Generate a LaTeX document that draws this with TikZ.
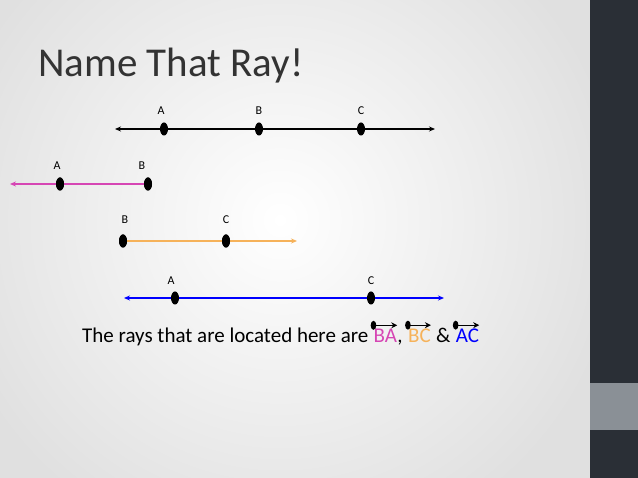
\documentclass[tikz,border=0pt]{standalone}
\usepackage{fontspec}
\setmainfont{Carlito}
\usetikzlibrary{shapes.geometric,arrows.meta}
\begin{document}
\begin{tikzpicture}[x=1pt,y=-1pt,
  dot/.style={ellipse,fill=black,minimum width=8pt,minimum height=13pt,inner sep=0pt},
  lbl/.style={font=\fontsize{12}{14}\selectfont,inner sep=0pt},
  txt/.style={font=\fontsize{21}{24}\selectfont,inner sep=0pt,anchor=base west},
  ln/.style={line width=1.2pt,>={Stealth[length=6pt,width=5pt]}}]
\useasboundingbox (0,0) rectangle (638,478);
\fill[black!12] (0,0) rectangle (590,478);
\shade[inner color=white,outer color=black!12,shading=radial] (280,220) circle (340pt);
\fill[color={rgb,255:red,42;green,47;blue,54}] (590,0) rectangle (638,478);
\fill[color={rgb,255:red,138;green,144;blue,150}] (590,383) rectangle (638,430);
\node[font=\fontsize{41}{48}\selectfont,anchor=base west,inner sep=0pt,text=black!80] (title) at (38,77) {Name That Ray!};
% line 1
\coordinate (l1a) at (115,129); \coordinate (l1b) at (435,129);
\draw[ln,<->] (l1a) -- (l1b);
\node[dot] (a1) at (164,129) {}; \node[dot] (b1) at (259,129) {}; \node[dot] (c1) at (361,129) {};
\node[lbl] at (161,111) {A}; \node[lbl] at (259,111) {B}; \node[lbl] at (361,111) {C};
% line 2
\definecolor{mag}{RGB}{214,70,180}
\coordinate (l2a) at (10,184);
\node[dot] (a2) at (60,184) {}; \node[dot] (b2) at (148,184) {};
\draw[ln,->,mag] (b2.center) -- (l2a);
\node[dot] at (60,184) {}; \node[dot] at (148,184) {};
\node[lbl] at (57,166) {A}; \node[lbl] at (142,166) {B};
% line 3
\definecolor{org}{RGB}{246,178,90}
\coordinate (l3b) at (297,241);
\node[dot] (b3) at (123,241) {}; \node[dot] (c3) at (226,241) {};
\draw[ln,->,org] (b3.center) -- (l3b);
\node[dot] at (123,241) {}; \node[dot] at (226,241) {};
\node[lbl] at (125,220) {B}; \node[lbl] at (226,220) {C};
% line 4
\coordinate (l4a) at (124,298); \coordinate (l4b) at (444,298);
\draw[ln,<->,blue] (l4a) -- (l4b);
\node[dot] (a4) at (175,298) {}; \node[dot] (c4) at (371,298) {};
\node[lbl] at (171,281) {A}; \node[lbl] at (371,281) {C};
% text
\node[txt] (t1) at (82,343) {The rays that are located here are};
\node[txt,text=mag] (ba) at ([xshift=5pt]t1.base east) {BA};
\node[txt] (cm) at (ba.base east) {,};
\node[txt,text=org] (bc) at ([xshift=5pt]cm.base east) {BC};
\node[txt] (amp) at ([xshift=5pt]bc.base east) {\&};
\node[txt,text=blue] (ac) at ([xshift=5pt]amp.base east) {AC};
\foreach \n in {ba,bc,ac}{
  \coordinate (\n s) at ([yshift=4pt]\n.north west);
  \coordinate (\n e) at ([yshift=4pt]\n.north east);
  \draw[line width=1.2pt,-{Stealth[length=6pt,width=6pt]}] (\n s) -- (\n e);
  \fill (\n s) ellipse (2.8pt and 4.5pt);
}
\end{tikzpicture}
\end{document}
